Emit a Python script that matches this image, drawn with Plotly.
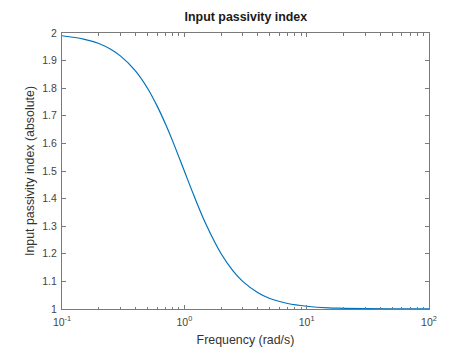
import plotly.graph_objects as go

freq = [0.1, 0.15, 0.2, 0.25, 0.3, 0.4, 0.5, 0.6, 0.7, 0.8, 0.9, 1.0, 1.2, 1.5, 2.0, 2.5, 3.0, 4.0, 5.0, 7.0, 10.0, 15.0, 20.0, 30.0, 50.0, 100.0]
index_vals = [1.990, 1.978, 1.962, 1.941, 1.917, 1.862, 1.800, 1.735, 1.671, 1.610, 1.552, 1.500, 1.410, 1.308, 1.200, 1.138, 1.100, 1.059, 1.038, 1.020, 1.010, 1.004, 1.0025, 1.001, 1.0004, 1.0001]

xtick_vals = [0.1, 1, 10, 100]
xtick_text = ["10<sup>-1</sup>", "10<sup>0</sup>", "10<sup>1</sup>", "10<sup>2</sup>"]
ytick_vals = [1, 1.1, 1.2, 1.3, 1.4, 1.5, 1.6, 1.7, 1.8, 1.9, 2]
ytick_text = ["1", "1.1", "1.2", "1.3", "1.4", "1.5", "1.6", "1.7", "1.8", "1.9", "2"]
minor_vals = [m * 10.0 ** k for k in (-1, 0, 1) for m in range(2, 10)]

axis_col = "#7a7a7a"
text_col = "#444444"

fig = go.Figure()
fig.add_trace(go.Scatter(x=freq, y=index_vals, mode="lines",
                         line=dict(color="#0072BD", width=1.2, shape="spline"),
                         showlegend=False))

# page body adds an 8px offset, so the layout is shifted up/left by 8px
fig.update_layout(
    width=474, height=355,
    margin=dict(l=54, r=53, t=25, b=54, autoexpand=False),
    paper_bgcolor="white", plot_bgcolor="white",
    font=dict(family="Liberation Sans, Arial, sans-serif", size=10.5, color=text_col),
    title=dict(text="<b>Input passivity index</b>", x=(54 + (474 - 53)) / 2 / 474, xref="paper", xanchor="center",
               y=1 - 9 / 355, yanchor="middle", font=dict(size=12.4, color="#1a1a1a")),
)
fig.update_xaxes(
    type="log", range=[-1, 2], automargin=False,
    tickvals=xtick_vals, ticktext=xtick_text,
    ticks="inside", ticklen=4, tickcolor=axis_col, ticklabelstandoff=3,
    minor=dict(tickvals=minor_vals, ticks="inside", ticklen=2.5, tickcolor=axis_col, showgrid=False),
    showline=True, linecolor=axis_col, linewidth=1, mirror="ticks",
    showgrid=False, zeroline=False,
    title=dict(text="Frequency (rad/s)", font=dict(size=12.4, color="#333333"), standoff=8),
    tickfont=dict(size=10.5, color=text_col),
)
fig.update_yaxes(
    range=[1, 2], automargin=False,
    tickvals=ytick_vals, ticktext=ytick_text,
    ticks="inside", ticklen=4, tickcolor=axis_col, ticklabelstandoff=2,
    showline=True, linecolor=axis_col, linewidth=1, mirror="ticks",
    showgrid=False, zeroline=False,
    title=dict(text="Input passivity index (absolute)", font=dict(size=12.4, color="#333333"), standoff=4),
    tickfont=dict(size=10.5, color=text_col),
)

fig.write_html("out.html")
